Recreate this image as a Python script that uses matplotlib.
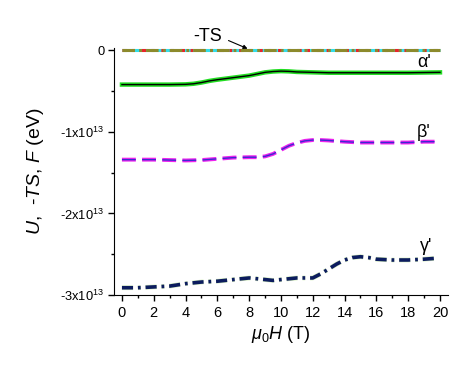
import matplotlib
matplotlib.use('Agg')
import matplotlib.pyplot as plt
from matplotlib.ticker import MultipleLocator

plt.rcParams['font.family'] = ['Liberation Sans', 'DejaVu Sans']
plt.rcParams['mathtext.fontset'] = 'custom'
plt.rcParams['mathtext.rm'] = 'Liberation Sans'
plt.rcParams['mathtext.it'] = 'Liberation Sans:italic'
plt.rcParams['lines.scale_dashes'] = False

# field (T) and energies (units of 1e13 eV)
ts_x = [0, 20]
ts_y = [0, 0]

alpha_x = [0, 1, 2, 3, 4, 4.5, 5, 5.5, 6, 7, 8, 8.5, 9, 9.5, 10, 10.5, 11, 12, 13, 14, 16, 18, 20]
alpha_y = [-0.42, -0.42, -0.42, -0.42, -0.417, -0.41, -0.395, -0.375, -0.36, -0.335,
           -0.31, -0.29, -0.27, -0.26, -0.255, -0.258, -0.265, -0.27, -0.275, -0.275,
           -0.275, -0.275, -0.27]

beta_x = [0, 1, 2, 3, 4, 5, 6, 7, 8, 8.5, 9, 9.5, 10, 10.5, 11, 11.5, 12, 12.5, 13,
          14, 15, 16, 17, 18, 19, 20]
beta_y = [-1.34, -1.34, -1.34, -1.345, -1.35, -1.345, -1.33, -1.315, -1.31, -1.31,
          -1.30, -1.27, -1.22, -1.17, -1.135, -1.11, -1.10, -1.10, -1.105, -1.12,
          -1.13, -1.13, -1.13, -1.13, -1.12, -1.12]

gamma_x = [0, 1, 2, 3, 4, 5, 6, 7, 8, 9, 9.5, 10, 11, 12, 12.5, 13, 13.5, 14, 14.5,
           15, 15.5, 16, 17, 18, 19, 19.7]
gamma_y = [-2.91, -2.91, -2.90, -2.89, -2.86, -2.84, -2.83, -2.81, -2.79, -2.81,
           -2.82, -2.81, -2.79, -2.79, -2.74, -2.68, -2.62, -2.57, -2.54, -2.53,
           -2.54, -2.56, -2.57, -2.57, -2.56, -2.55]

ytick_vals = [0, -1, -2, -3]
ytick_labels = ['0', r'-1x10$^{13}$', r'-2x10$^{13}$', r'-3x10$^{13}$']

E = 1e13

fig = plt.figure(figsize=(4.74, 3.74), dpi=100)
ax = fig.add_axes([0.2405, 0.211, 0.7045, 0.661])

# -TS (three overlapping dash-dot curves)
ax.plot(ts_x, [v * E for v in ts_y], color='#33dde8', lw=2.2, solid_capstyle='butt')
ax.plot(ts_x, [v * E for v in ts_y], color='#e8242a', lw=2.2, dashes=(3, 4, 2, 5))
ax.plot(ts_x, [v * E for v in ts_y], color='#8c8a2c', lw=2.2, dashes=(9, 3, 2, 3))

# alpha'
ax.plot(alpha_x, [v * E for v in alpha_y], color='#22dd22', lw=3.2)
ax.plot(alpha_x, [v * E for v in alpha_y], color='black', lw=1.0)

# beta'
ax.plot(beta_x, [v * E for v in beta_y], color='#ee22ee', lw=2.8, dashes=(10, 4.5))
ax.plot(beta_x, [v * E for v in beta_y], color='#3a2ad0', lw=1.0, dashes=(10, 4.5))

# gamma'
ax.plot(gamma_x, [v * E for v in gamma_y], color='#d8f0c0', lw=3.4, dashes=(8, 3.5, 2, 3.5))
ax.plot(gamma_x, [v * E for v in gamma_y], color='#0c1c5e', lw=2.6, dashes=(8, 3.5, 2, 3.5))

ax.set_xlim(-0.5, 20.5)
ax.set_ylim(-3 * E, 0.03 * E)

ax.spines['top'].set_visible(False)
ax.spines['right'].set_visible(False)
ax.xaxis.set_major_locator(MultipleLocator(2))
ax.xaxis.set_minor_locator(MultipleLocator(1))
ax.set_yticks([v * E for v in ytick_vals])
ax.set_yticklabels(ytick_labels)
ax.yaxis.set_minor_locator(MultipleLocator(0.5 * E))
ax.tick_params(which='major', direction='out', length=4, width=1)
ax.tick_params(which='minor', direction='out', length=2.5, width=1)
ax.tick_params(axis='x', labelsize=10.5)
ax.tick_params(axis='y', labelsize=9.3, pad=3)

ax.set_xlabel(r'$\mu_0H$ (T)', fontsize=13, labelpad=3)
ax.set_ylabel(r'$U$,  -$TS$, $F$ (eV)', fontsize=14)
ax.yaxis.set_label_coords(-0.203, 0.5)

ax.text(5.4, 0.17 * E, '-TS', fontsize=13, ha='center', va='center')
ax.annotate('', xy=(7.9, 0.02 * E), xytext=(6.7, 0.12 * E), annotation_clip=False,
            arrowprops=dict(arrowstyle='-|>', color='black', lw=0.8,
                            mutation_scale=6, shrinkA=0, shrinkB=0))
ax.text(19.0, -0.15 * E, "\u03b1'", fontsize=13, ha='center', va='center')
ax.text(19.0, -1.01 * E, "\u03b2'", fontsize=13, ha='center', va='center')
ax.text(19.1, -2.41 * E, "\u03b3'", fontsize=13, ha='center', va='center')

fig.savefig('out.png', dpi=100)
